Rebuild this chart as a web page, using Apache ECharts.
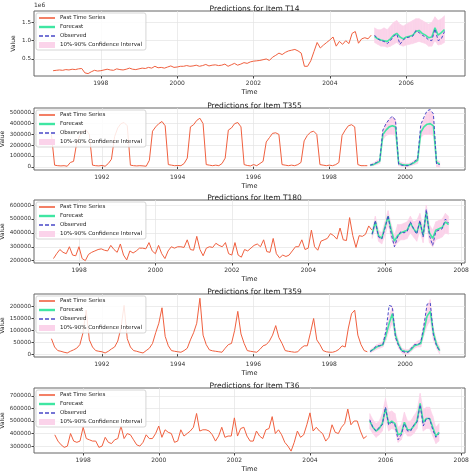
<!DOCTYPE html>
<html><head><meta charset="utf-8">
<script src="https://cdn.jsdelivr.net/npm/echarts@6/dist/echarts.min.js"></script>
<style>html,body{margin:0;padding:0;background:#fff}#c{width:474px;height:474px}</style>
</head><body><div id="c"></div>
<script>
// ---- T14 (values in 1e6) ----
const t14Start = 1996.75, t14FcStart = 2005.17;
const t14Past = [0.18,0.19,0.2,0.19,0.21,0.2,0.22,0.21,0.23,0.24,0.12,0.1,0.15,0.19,0.17,
0.18,0.2,0.22,0.2,0.19,0.23,0.21,0.2,0.22,0.25,0.22,0.21,
0.23,0.25,0.24,0.27,0.25,0.3,0.26,0.27,0.25,0.28,0.31,0.27,
0.28,0.3,0.3,0.32,0.3,0.31,0.33,0.3,0.32,0.35,0.31,0.33,
0.34,0.32,0.33,0.36,0.3,0.34,0.38,0.33,0.36,0.4,0.38,0.42,
0.44,0.45,0.46,0.48,0.5,0.46,0.55,0.6,0.66,0.62,0.68,0.72,
0.74,0.76,0.72,0.66,0.3,0.3,0.45,0.7,0.95,0.8,0.88,0.95,
1.02,1.1,0.85,0.98,0.9,1.0,0.92,1.2,1.25,0.93,1.05,1.08,
1.05,1.15];
const t14Fc  = [1.12,1.05,1.02,1.0,0.98,1.05,1.15,1.2,1.1,1.05,1.1,1.12,1.15,1.25,1.28,1.2,1.15,1.08,1.1,1.35,1.15,1.22,1.3];
const t14Obs = [1.15,1.05,1.0,0.98,0.92,1.0,1.12,1.18,0.9,1.02,1.08,1.1,1.12,1.28,1.22,1.15,1.1,1.02,1.0,1.32,1.0,1.05,1.25];
const t14Lo  = [0.95,0.9,0.85,0.85,0.82,0.85,0.9,0.95,0.88,0.85,0.88,0.9,0.92,0.95,0.98,0.95,0.92,0.85,0.85,1.0,0.88,0.9,0.95];
const t14Hi  = [1.35,1.3,1.3,1.35,1.3,1.4,1.5,1.55,1.45,1.4,1.45,1.5,1.55,1.6,1.6,1.55,1.5,1.45,1.5,1.65,1.55,1.6,1.68];

// ---- T355 (thousands) ----
const t355Start = 1990.67, t355FcStart = 1999.08;
const t355Past = [300,15,10,8,
10,5,40,50,220,290,330,340,300,15,10,8,
12,5,30,70,280,360,400,410,380,15,10,8,
10,8,5,60,330,370,400,420,380,20,15,10,
12,10,30,80,370,390,430,450,400,20,15,10,
15,10,30,80,340,360,400,410,370,20,12,8,
20,10,30,50,230,270,310,315,300,20,15,10,
15,10,20,40,240,290,320,330,300,20,15,10,
15,10,20,40,290,340,380,390,370,20,10,10,
10];
const t355Fc  = [15,20,35,50,300,340,370,380,370,30,20,15,15,25,40,60,320,370,395,400,380,40,25];
const t355Obs = [15,25,40,55,340,400,440,470,430,20,15,10,10,25,50,70,390,460,520,530,490,25,20];
const t355Lo  = [5,10,20,30,250,290,300,300,290,10,5,0,0,10,20,30,270,300,300,300,290,0,-5];
const t355Hi  = [25,35,55,70,340,400,440,460,440,50,40,30,30,40,60,80,370,440,500,520,480,60,50];

// ---- T180 (thousands) ----
const t180Start = 1997.33, t180FcStart = 2005.67;
const t180Past = [215,250,280,260,250,300,240,235,
300,215,200,245,260,270,280,285,275,270,310,280,
260,320,240,205,270,255,270,290,290,285,330,270,
250,310,250,215,270,300,290,300,300,295,350,280,
275,375,280,235,290,300,295,325,310,300,330,250,
240,330,240,225,280,270,290,310,320,300,350,265,
260,360,250,220,240,230,240,270,300,300,350,280,
290,420,300,275,340,350,360,395,380,355,435,350,
345,510,380,295,380,375,390,450,420];
const t180Fc  = [390,480,380,360,440,520,420,340,380,400,410,420,470,430,400,480,380,550,400,360,420,430,440,480,460];
const t180Obs = [390,490,370,355,430,525,390,300,370,410,400,410,480,430,390,490,370,570,380,310,410,420,430,500,470];
const t180Lo  = [360,440,340,320,380,460,360,300,330,350,350,360,400,370,340,410,330,470,330,300,350,360,370,400,390];
const t180Hi  = [420,520,420,400,480,560,460,380,460,460,470,480,520,480,490,540,440,600,460,420,480,490,500,540,520];

// ---- T359 (thousands) ----
const t359Start = 1990.67, t359FcStart = 1999.08;
const t359Past = [65,30,15,12,
8,5,12,18,25,40,90,185,60,30,15,12,
10,5,12,22,30,55,110,205,65,30,15,12,
8,5,15,25,45,90,130,195,75,35,15,12,
10,8,15,25,60,90,130,235,80,40,18,14,
12,10,8,25,40,45,100,180,85,45,15,12,
10,8,20,35,40,55,80,120,70,45,15,12,
10,8,10,25,35,35,90,150,60,40,15,10,
8,8,12,20,35,30,110,170,185,80,40,15,
10];
const t359Fc  = [12,20,30,35,40,80,130,170,80,40,15,12,10,20,35,40,45,100,160,180,90,40,15];
const t359Obs = [10,22,35,35,40,100,205,200,70,35,12,8,8,25,40,40,50,120,210,215,80,35,12];
const t359Lo  = [5,12,20,25,30,60,100,130,60,25,5,0,0,12,25,30,30,80,120,140,60,25,0];
const t359Hi  = [18,28,40,45,55,100,160,200,100,55,25,20,18,30,45,55,60,130,200,230,110,55,30];

// ---- T36 (thousands) ----
const t36Start = 1997.25, t36FcStart = 2005.58;
const t36Past = [390,340,310,290,300,400,340,330,340,
450,360,350,340,340,290,300,370,330,320,350,360,
460,360,400,390,350,310,300,330,390,360,360,400,
460,370,430,410,400,330,340,430,380,400,420,450,
560,420,430,430,420,390,340,380,450,370,380,380,
525,380,440,450,380,340,340,420,380,360,430,440,
535,400,430,390,330,300,260,330,420,370,390,470,
565,420,450,420,400,340,370,470,410,400,450,480,
595,470,500,500,420,360,380];
const t36Fc  = [500,450,420,440,480,600,480,500,480,390,400,490,430,430,460,500,640,490,520,520,450,380,410];
const t36Obs = [510,450,420,450,470,610,470,490,470,350,390,480,420,420,470,490,630,460,520,520,430,370,400];
const t36Lo  = [440,400,370,390,420,520,420,440,430,330,350,420,380,380,400,440,560,420,440,440,380,320,340];
const t36Hi  = [560,510,480,500,560,680,570,580,560,450,470,570,500,500,540,580,720,590,610,610,540,450,480];

const titles = ['Predictions for Item T14','Predictions for Item T355','Predictions for Item T180','Predictions for Item T359','Predictions for Item T36'];
const N_PAST='Past Time Series', N_FC='Forecast', N_OBS='Observed', N_CI='10%-90% Confidence Interval';

const panels = [
 {start:t14Start, fcStart:t14FcStart, past:t14Past, fc:t14Fc, obs:t14Obs, lo:t14Lo, hi:t14Hi, scale:1,
  top:11, h:65, xmin:1996.25, xmax:2007.54, xt:[1998,2000,2002,2004,2006], ymin:0.035, ymax:1.81, yt:[0.5,1.0,1.5], fmt:v=>v.toFixed(1)},
 {start:t355Start, fcStart:t355FcStart, past:t355Past, fc:t355Fc, obs:t355Obs, lo:t355Lo, hi:t355Hi, scale:1000,
  top:108, h:62, xmin:1990.21, xmax:2001.58, xt:[1992,1994,1996,1998,2000], ymin:-30000, ymax:545000, yt:[0,100000,200000,300000,400000,500000], fmt:v=>String(v)},
 {start:t180Start, fcStart:t180FcStart, past:t180Past, fc:t180Fc, obs:t180Obs, lo:t180Lo, hi:t180Hi, scale:1000,
  top:200, h:63, xmin:1996.82, xmax:2008.1, xt:[1998,2000,2002,2004,2006,2008], ymin:183000, ymax:637000, yt:[200000,300000,400000,500000,600000], fmt:v=>String(v)},
 {start:t359Start, fcStart:t359FcStart, past:t359Past, fc:t359Fc, obs:t359Obs, lo:t359Lo, hi:t359Hi, scale:1000,
  top:294, h:63, xmin:1990.21, xmax:2001.58, xt:[1992,1994,1996,1998,2000], ymin:-12000, ymax:253000, yt:[0,50000,100000,150000,200000], fmt:v=>String(v)},
 {start:t36Start, fcStart:t36FcStart, past:t36Past, fc:t36Fc, obs:t36Obs, lo:t36Lo, hi:t36Hi, scale:1000,
  top:388, h:65, xmin:1996.7, xmax:2008.1, xt:[1998,2000,2002,2004,2006,2008], ymin:245000, ymax:763000, yt:[300000,400000,500000,600000,700000], fmt:v=>String(v)}
];

const FONT='DejaVu Sans';
const option = {animation:false, textStyle:{fontFamily:FONT}, title:[], grid:[], xAxis:[], yAxis:[], legend:[], series:[],
 graphic:[{type:'text', left:34, top:2, style:{text:'1e6', font:'6px DejaVu Sans', fill:'#333'}}]};

const ICON_LINE='path://M0,0L20,0L20,2L0,2Z';
const ICON_DASH='path://M0,0L5,0L5,2L0,2ZM7.5,0L12.5,0L12.5,2L7.5,2ZM15,0L20,0L20,2L15,2Z';
const ICON_THICK='path://M0,0L20,0L20,3L0,3Z';

panels.forEach((p,k)=>{
  const mk=(start,arr)=>arr.map((v,i)=>[start+i/12, v*p.scale]);
  option.title.push({text:titles[k], left:249.5, textAlign:'center', top:p.top-11,
    textStyle:{fontSize:7.5,fontWeight:'normal',color:'#222',fontFamily:FONT}});
  option.grid.push({left:34, right:9, top:p.top, height:p.h, show:true, borderColor:'#666', borderWidth:1,
    backgroundColor:'#fff', containLabel:false, outerBoundsMode:'none'});
  option.xAxis.push({type:'value', gridIndex:k, min:p.xmin, max:p.xmax, name:'Time', nameLocation:'middle', nameGap:13,
    nameTextStyle:{fontSize:6.5,color:'#222'},
    axisLine:{show:false}, axisTick:{show:true, length:2.5, customValues:p.xt, lineStyle:{color:'#444'}},
    axisLabel:{fontSize:6, color:'#333', margin:4, customValues:p.xt, formatter:v=>String(Math.round(v))},
    splitLine:{show:true, lineStyle:{color:'#e4e4e4', width:0.7}}});
  option.yAxis.push({type:'value', gridIndex:k, min:p.ymin, max:p.ymax, name:'Value', nameLocation:'middle', nameGap:k==0?18:28.5,
    nameTextStyle:{fontSize:6,color:'#222'}, nameMoveOverlap:false,
    axisLine:{show:false}, axisTick:{show:true, length:2.5, customValues:p.yt, lineStyle:{color:'#444'}},
    axisLabel:{fontSize:5.6, color:'#333', margin:3, align:'right', customValues:p.yt, formatter:p.fmt},
    splitLine:{show:true, lineStyle:{color:'#e4e4e4', width:0.7}}});
  const lo=mk(p.fcStart,p.lo), hi=mk(p.fcStart,p.hi);
  const band=lo.map((d,i)=>[d[0], d[1], hi[i][1]]);
  option.series.push({name:N_CI, type:'custom', xAxisIndex:k, yAxisIndex:k, data:band, itemStyle:{color:'#fbd3ea'},
    clip:true, z:1,
    renderItem:(params,api)=>{
      const i=params.dataIndex; if(i>=band.length-1) return null;
      const a=band[i], b=band[i+1];
      const pts=[api.coord([a[0],a[1]]),api.coord([b[0],b[1]]),api.coord([b[0],b[2]]),api.coord([a[0],a[2]])];
      return {type:'polygon', shape:{points:pts}, style:{fill:'#fbd3ea', stroke:'#fbd3ea', lineWidth:0.6}};
    }});
  option.series.push({name:N_PAST, type:'line', xAxisIndex:k, yAxisIndex:k, data:mk(p.start,p.past), symbol:'none',
    lineStyle:{color:'#f0603f', width:1}, itemStyle:{color:'#f0603f'}, z:3});
  option.series.push({name:N_FC, type:'line', xAxisIndex:k, yAxisIndex:k, data:mk(p.fcStart,p.fc), symbol:'none',
    lineStyle:{color:'#3fe6a2', width:1.6}, itemStyle:{color:'#3fe6a2'}, z:4});
  option.series.push({name:N_OBS, type:'line', xAxisIndex:k, yAxisIndex:k, data:mk(p.fcStart,p.obs), symbol:'none',
    lineStyle:{color:'#4848c8', width:1, type:[3,2]}, itemStyle:{color:'#4848c8'}, z:5});
  option.legend.push({orient:'vertical', left:36, top:p.top+2, itemWidth:16, itemHeight:6, itemGap:3,
    padding:[2,4,2,3], backgroundColor:'rgba(255,255,255,0.85)', borderColor:'#ccc', borderWidth:0.8, borderRadius:2,
    textStyle:{fontSize:5.5,color:'#222',fontFamily:FONT},
    data:[{name:N_PAST, icon:ICON_LINE, itemHeight:1.5},{name:N_FC, icon:ICON_THICK, itemHeight:2.2},{name:N_OBS, icon:ICON_DASH, itemHeight:1.5},{name:N_CI, icon:'rect'}]});
});

const chart = echarts.init(document.getElementById('c'), null, {renderer:'canvas'});
chart.setOption(option);
</script></body></html>
